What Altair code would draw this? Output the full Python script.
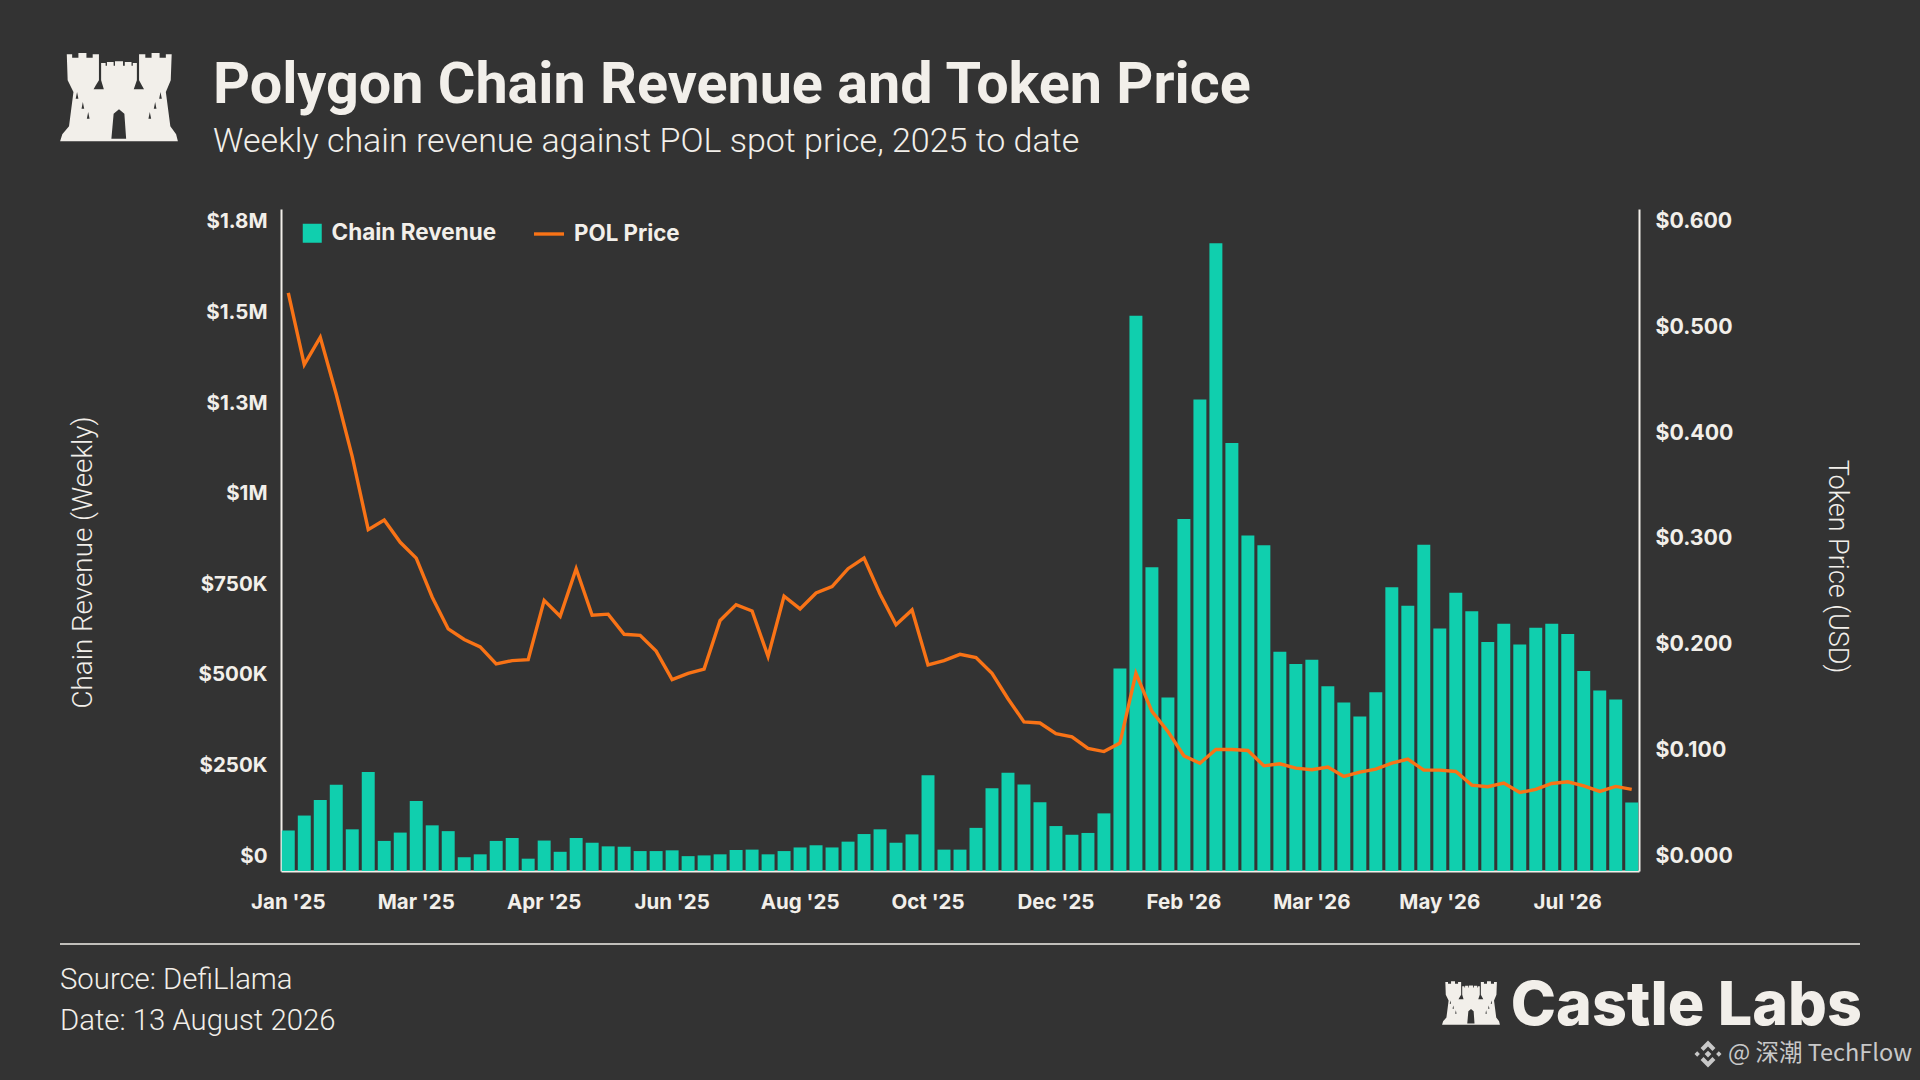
import altair as alt
import pandas as pd

BG = "#333333"
INK = "#F2EFEA"
TEAL = "#10CFAE"
ORANGE = "#F97316"
FONT = "Roboto"
TICK_FONT = "Inter"

revenue = [112, 153, 196, 238, 115, 273, 83, 106, 193, 126, 110, 38, 46, 83, 91, 34, 84, 53, 91, 78, 68, 67, 55, 55, 57,
           41, 43, 46, 58, 59, 46, 55, 65, 71, 65, 81, 102, 115, 78, 101, 264, 59, 59, 119, 228, 271, 239, 190, 124, 100,
           105, 159, 559, 1532, 838, 479, 971, 1301, 1732, 1181, 926, 899, 605, 571, 583, 510, 465, 426, 493, 783, 732,
           900, 669, 768, 717, 632, 682, 625, 671, 682, 654, 552, 498, 473, 189]
price = [.547, .479, .505, .451, .392, .323, .332, .311, .296, .259, .229, .219, .212, .196, .199, .200, .256, .241, .286,
         .242, .243, .224, .223, .208, .181, .187, .191, .237, .252, .246, .203, .260, .248, .263, .269, .286, .296, .262,
         .233, .247, .195, .199, .205, .202, .187, .163, .141, .140, .130, .127, .116, .113, .121, .187, .151, .132, .109,
         .102, .115, .115, .114, .0995, .1014, .0973, .0958, .0983, .0895, .0936, .0964, .102, .1058, .0954, .0954, .0942,
         .0813, .0797, .0832, .0743, .0772, .0828, .0844, .0806, .0753, .08, .0772]
weeks = [str(d.date()) for d in pd.date_range("2025-01-06", periods=len(revenue), freq="7D")]
rev_ticks = [0, 250000, 500000, 750000, 1000000, 1250000, 1500000, 1750000]
price_ticks = [0, .1, .2, .3, .4, .5, .6]

df = pd.DataFrame({
    "week": weeks,
    "revenue": [v * 1000 for v in revenue],
    "price": price,
    "rev_series": "Chain Revenue",
    "price_series": "POL Price",
})

OX, OY = 281, 209  # plot origin in page pixels
W, H = 1358, 662
PX_PER_250K = 90.6
REV_MAX = H / PX_PER_250K * 250000
PRICE_MAX = H / 105.7 * 0.1

xscale = alt.Scale(type="band", domain=weeks, paddingInner=0.19, paddingOuter=0.05)
xaxis = alt.Axis(values=weeks[::8], labelExpr="utcFormat(toDate(datum.value), \"%b '%y\")", title=None, labelAngle=0,
                 ticks=False, domainColor=INK, domainWidth=2, labelColor=INK, labelFont=TICK_FONT, labelFontSize=20.5,
                 labelFontWeight=700, labelPadding=21, labelOverlap=False, grid=False)

bars = alt.Chart(df).mark_bar(cornerRadius=0).encode(
    x=alt.X("week:N", scale=xscale, axis=xaxis),
    y=alt.Y("revenue:Q", scale=alt.Scale(domain=[0, REV_MAX], nice=False, zero=True), axis=alt.Axis(
        values=rev_ticks, orient="left", grid=False, ticks=False, domainColor=INK, domainWidth=2,
        labelColor=INK, labelFont=TICK_FONT, labelFontSize=20.5, labelFontWeight=700, labelPadding=14, labelOffset=-15,
        labelExpr="datum.value == 0 ? '$0' : datum.value < 1000000 ? '$' + datum.value / 1000 + 'K' : '$' + format(datum.value / 1000000, '.1~f') + 'M'",
        labelOverlap=False, labelFlush=False,
        title="Chain Revenue (Weekly)", titleColor=INK, titleFont=FONT, titleFontSize=27.8, titleFontWeight=300,
        titleX=-198, titleY=353, titleAngle=270, titleBaseline="middle", titleAlign="center")),
    fill=alt.Fill("rev_series:N", scale=alt.Scale(domain=["Chain Revenue"], range=[TEAL]), legend=alt.Legend(
        orient="none", legendX=20, legendY=13, title=None, padding=0, symbolType="square", symbolSize=361,
        symbolOpacity=1, labelColor=INK, labelFont=TICK_FONT, labelFontSize=22.5, labelFontWeight=700, labelOffset=8,
        labelLimit=400)),
)

line = alt.Chart(df).mark_line(strokeWidth=3.4).encode(
    x=alt.X("week:N", scale=xscale, axis=xaxis),
    y=alt.Y("price:Q", scale=alt.Scale(domain=[0, PRICE_MAX], nice=False, zero=True), axis=alt.Axis(
        values=price_ticks, orient="right", grid=False, ticks=False, domainColor=INK, domainWidth=2, format="$.3f",
        labelColor=INK, labelFont=TICK_FONT, labelFontSize=21.3, labelFontWeight=700, labelPadding=16, labelOffset=-15,
        labelOverlap=False, labelFlush=False,
        title="Token Price (USD)", titleColor=INK, titleFont=FONT, titleFontSize=27, titleFontWeight=300,
        titleX=197, titleY=357, titleAngle=90, titleBaseline="middle", titleAlign="center")),
    stroke=alt.Stroke("price_series:N", scale=alt.Scale(domain=["POL Price"], range=[ORANGE]), legend=alt.Legend(
        orient="none", legendX=251, legendY=8, title=None, padding=0, symbolType="stroke", symbolSize=900,
        symbolStrokeWidth=3.4, labelColor=INK, labelFont=TICK_FONT, labelFontSize=22.3, labelFontWeight=700, labelOffset=8,
        labelLimit=400)),
)


def text(s, x, y, size, weight=400, color=INK, font=FONT, align="left"):
    return alt.Chart(alt.Data(values=[{}])).mark_text(
        text=s, align=align, baseline="middle", font=font, fontSize=size, fontWeight=weight, color=color
    ).encode(x=alt.value(x - OX), y=alt.value(y - OY))


def icon(path, x, y, width, color=INK):
    return alt.Chart(alt.Data(values=[{}])).mark_point(
        shape=path, filled=True, fill=color, size=width * width, opacity=1, strokeWidth=0
    ).encode(x=alt.value(x - OX), y=alt.value(y - OY))


def castle_path():
    outer = [(45, 333), (50, 312), (65, 288), (75, 185), (62, 150), (60, 72), (72, 72), (72, 82), (86, 82), (86, 68),
             (104, 68), (104, 82), (118, 82), (118, 72), (132, 72), (132, 150), (125, 165), (120, 177), (143, 177),
             (137, 150), (137, 98), (147, 98), (147, 106), (150, 106), (150, 95), (165, 95), (165, 106), (168, 106),
             (168, 93), (186, 93), (186, 106), (190, 106), (190, 95), (205, 95), (205, 106), (208, 106), (208, 98),
             (217, 98), (217, 150), (210, 177), (233, 177), (228, 165), (222, 150), (222, 72), (236, 72), (236, 82),
             (250, 82), (250, 68), (268, 68), (268, 82), (282, 82), (282, 72), (295, 72), (293, 150), (282, 185),
             (292, 288), (305, 312), (309, 333)]
    door = [(160, 325), (193, 325), (189, 250), (177, 237), (165, 250)]
    slits = [[(80, 205), (86, 205), (83, 185)], [(93, 235), (99, 235), (96, 215)], [(105, 265), (111, 265), (108, 245)],
             [(267, 205), (273, 205), (270, 185)], [(255, 235), (261, 235), (258, 215)],
             [(243, 265), (249, 265), (246, 245)]]
    def sub(pts):
        c = [f"{(x - 177) / 132.2:.3f},{(y - 200) / 177:.3f}" for x, y in pts]
        return "M" + " L".join(c) + " Z"
    return " ".join([sub(outer), sub(door)] + [sub(s) for s in slits])


CASTLE = castle_path()
DIAMOND = ("M-1,0 L-.8,-.2 L-.6,0 L-.8,.2 Z M1,0 L.8,-.2 L.6,0 L.8,.2 Z M0,-.25 L.25,0 L0,.25 L-.25,0 Z "
           "M0,-1 L.55,-.45 L.33,-.23 L0,-.56 L-.33,-.23 L-.55,-.45 Z "
           "M0,1 L.55,.45 L.33,.23 L0,.56 L-.33,.23 L-.55,.45 Z")

rule = alt.Chart(alt.Data(values=[{}])).mark_rule(color=INK, strokeWidth=1.5).encode(
    x=alt.value(60 - OX), x2=alt.value(1860 - OX), y=alt.value(944 - OY)
)

chart = alt.layer(
    bars, line,
    icon(CASTLE, 119, 97, 118),
    text("Polygon Chain Revenue and Token Price", 213, 86, 57.5, 700),
    text("Weekly chain revenue against POL spot price, 2025 to date", 213, 142, 34, 300),
    rule,
    text("Source: DefiLlama", 60, 980, 29.3, 300),
    text("Date: 13 August 2026", 60, 1021, 29.3, 300),
    icon(CASTLE, 1471, 1003, 58),
    text("Castle Labs", 1862, 1007, 61, 800, font="Inter", align="right"),
    icon(DIAMOND, 1708, 1054, 27, "#C8C8C8"),
    text("@ 深潮 TechFlow", 1728, 1054, 23.5, 400, "#C8C8C8", "Noto Sans CJK SC"),
).resolve_scale(y="independent", fill="independent", stroke="independent").properties(
    width=W, height=H, background=BG, autosize="none",
    padding={"left": OX - 8, "top": OY - 8, "right": 1904 - (OX - 8) - W, "bottom": 1064 - (OY - 8) - H},
).configure_view(stroke=None)

chart.save("out.html", embed_options={"renderer": "svg", "actions": False,
                                       "defaultStyle": "body{background:#333333}"})
